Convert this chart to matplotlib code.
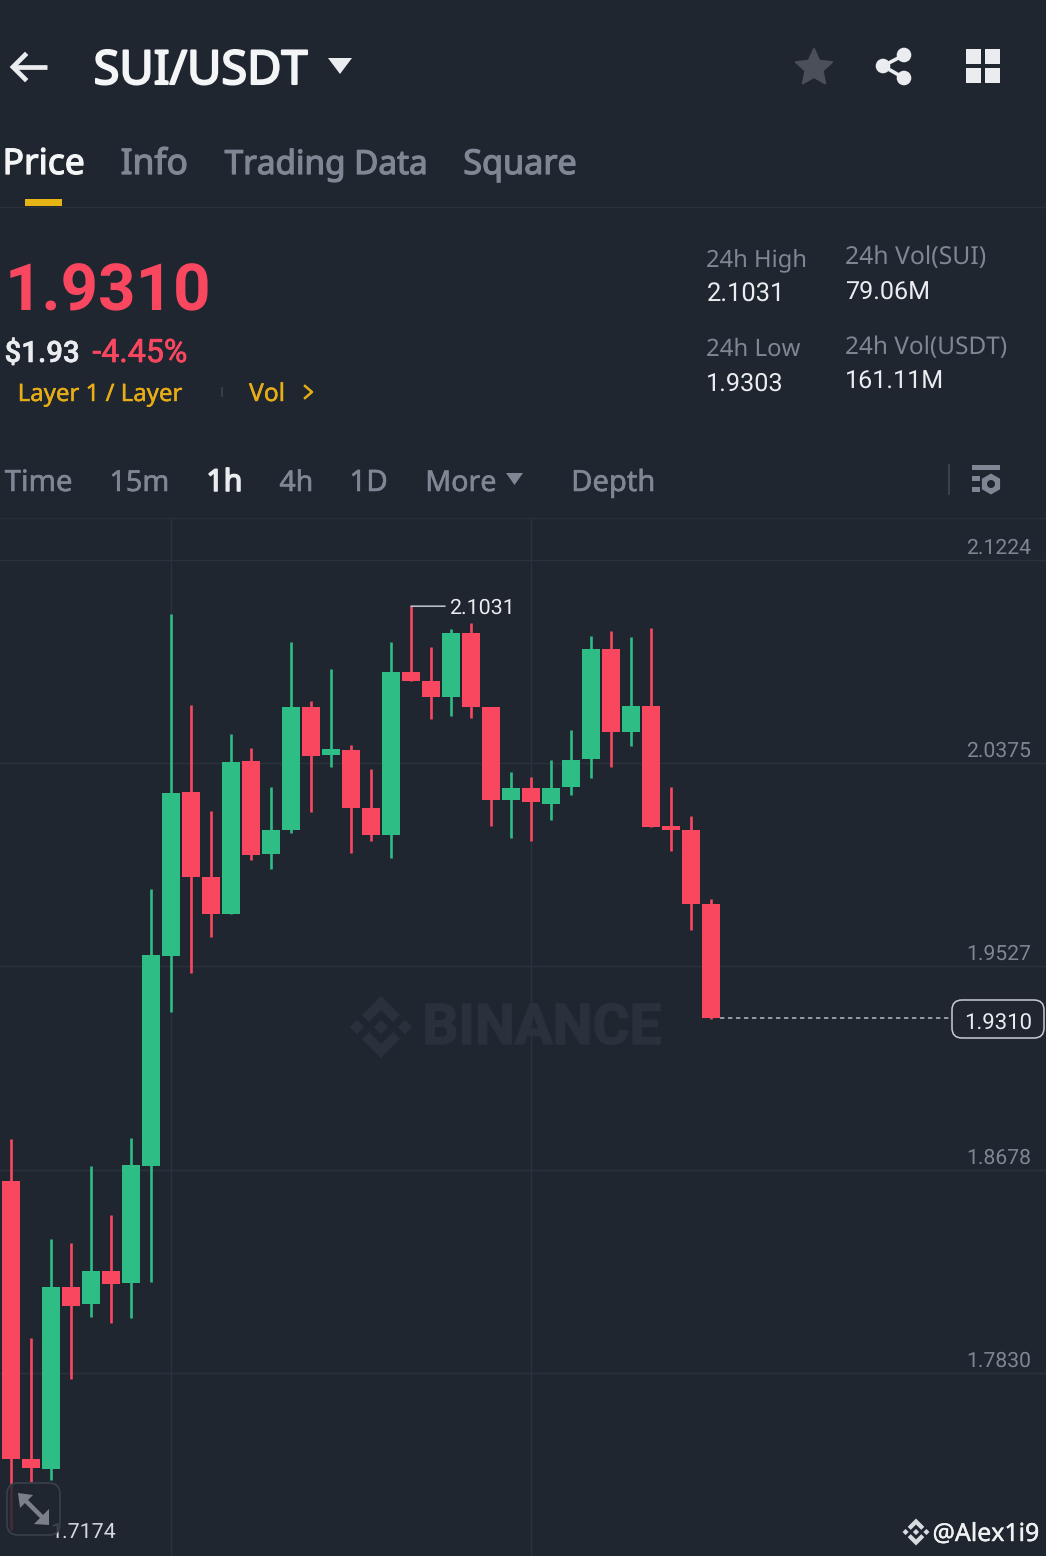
import matplotlib
matplotlib.use("Agg")
import matplotlib.pyplot as plt
import matplotlib.patheffects as pe
from matplotlib.patches import Polygon, Circle, Rectangle, FancyBboxPatch
from matplotlib.font_manager import FontProperties
from matplotlib.textpath import TextPath
from matplotlib.transforms import ScaledTranslation
import numpy as np

plt.rcParams["text.hinting"] = "none"

# ---------- data ----------
highs = [1.8807, 1.7976, 1.8389, 1.8373, 1.8694, 1.8490, 1.8811, 1.9851, 2.0999, 2.0619, 2.0176, 2.0498,
         2.0439, 2.0276, 2.0882, 2.0635, 2.0769, 2.0452, 2.0351, 2.0882, 2.1031, 2.0861, 2.0936, 2.0961,
         2.0610, 2.0339, 2.0318, 2.0389, 2.0514, 2.0907, 2.0928, 2.0903, 2.0940, 2.0276, 2.0155, 1.9809]
lows = [1.7174, 1.7375, 1.7383, 1.7805, 1.8064, 1.8039, 1.8060, 1.8210, 1.9337, 1.9500, 1.9650, 1.9746,
        1.9972, 1.9934, 2.0084, 2.0172, 2.0360, 2.0001, 2.0051, 1.9980, 2.0719, 2.0560, 2.0573, 2.0564,
        2.0114, 2.0063, 2.0051, 2.0139, 2.0243, 2.0314, 2.0360, 2.0448, 2.0109, 2.0009, 1.9679, 1.9309]
opens = [1.8632, 1.7471, 1.7429, 1.8189, 1.8118, 1.8256, 1.8206, 1.8694, 1.9571, 2.0255, 1.9901, 1.9746,
         2.0385, 1.9997, 2.0097, 2.0610, 2.0410, 2.0431, 2.0189, 2.0076, 2.0756, 2.0719, 2.0652, 2.0919,
         2.0610, 2.0222, 2.0272, 2.0205, 2.0276, 2.0393, 2.0852, 2.0506, 2.0614, 2.0114, 2.0097, 1.9788]
closes = [1.7471, 1.7433, 1.8189, 1.8110, 1.8256, 1.8202, 1.8698, 1.9575, 2.0251, 1.9901, 1.9746, 2.0381,
          1.9992, 2.0097, 2.0610, 2.0406, 2.0435, 2.0189, 2.0076, 2.0756, 2.0719, 2.0652, 2.0919, 2.0610,
          2.0222, 2.0272, 2.0214, 2.0272, 2.0389, 2.0852, 2.0506, 2.0614, 2.0109, 2.0097, 1.9788, 1.9310]
price_ticks = [2.1224, 2.0375, 1.9527, 1.8678, 1.7830]
tick_labels = ["2.1224", "2.0375", "1.9527", "1.8678", "1.7830"]
vgrid_candles = [8, 26]
day_high, day_low, last_price = 2.1031, 1.7174, 1.9310

BG = "#1f2630"; GRID = "#2b323d"; RED = "#f94760"; GREEN = "#2ebd85"
WHITE = "#eaecef"; GRAY = "#7e8793"; YEL = "#f0b90b"; MARK = "#2a313c"
W, H = 1046, 1556

fig = plt.figure(figsize=(W / 100, H / 100), dpi=100, facecolor=BG)

def pixel_axes(z):
    a = fig.add_axes([0, 0, 1, 1], zorder=z)
    a.set_xlim(0, W); a.set_ylim(H, 0); a.axis("off"); a.patch.set_alpha(0)
    return a

back = pixel_axes(1)
top = pixel_axes(3)

def txt(a, x0, x1, base, s, color, family="Noto Sans", weight="normal", stroke=0.0, z=5):
    fp = FontProperties(family=family, weight=weight)
    ext = TextPath((0, 0), s, size=100, prop=fp).get_extents()
    k = (x1 - x0) / ext.width
    t = a.text(x0 - ext.x0 * k, base, s, color=color, fontproperties=fp, fontsize=100 * k * 0.72,
               ha="left", va="baseline", zorder=z)
    if stroke:
        t.set_path_effects([pe.withStroke(linewidth=stroke, foreground=color)])
    return t

def binance(a, cx, cy, r, color, z=5):
    k = r / 63.3
    top_ch = np.array([(38.73, 53.2), (63.3, 28.63), (87.89, 53.22), (102.2, 38.92), (63.3, 0), (24.42, 38.9)])
    polys = [top_ch, np.column_stack([top_ch[:, 0], 126.6 - top_ch[:, 1]])]
    for c, h in [(14.31, 14.31), (63.3, 14.52), (112.3, 14.31)]:
        polys.append(np.array([(c - h, 63.3), (c, 63.3 - h), (c + h, 63.3), (c, 63.3 + h)]))
    for p in polys:
        a.add_patch(Polygon((p - 63.3) * k + [cx, cy], closed=True, fc=color, ec="none", zorder=z))

# ---------- chart ----------
ax = fig.add_axes([0, 0, 1, (H - 519) / H], zorder=2)
ax.patch.set_alpha(0)
ax.set_xlim(-0.55, 51.75)
ax.set_ylim(1.7066, 2.1395)
for sp in ax.spines.values():
    sp.set_visible(False)
ax.set_xticks([])
ax.set_yticks(price_ticks)
ax.set_yticklabels(tick_labels)
ax.yaxis.tick_right()
ax.tick_params(axis="y", length=0, pad=-10.8, labelcolor=GRAY, labelsize=15.2)
for t in ax.yaxis.get_major_ticks():
    t.label2.set_ha("right"); t.label2.set_va("bottom"); t.label2.set_fontfamily("Roboto")
    t.label2.set_transform(t.label2.get_transform() + ScaledTranslation(0, 1.5 / 72, fig.dpi_scale_trans))
ax.grid(axis="y", color=GRID, lw=1.0, zorder=0)
for v in vgrid_candles:
    ax.axvline(v, color=GRID, lw=1.0, zorder=0)

xs = np.arange(len(opens))
cols = [GREEN if c >= o else RED for o, c in zip(opens, closes)]
ax.vlines(xs, lows, highs, colors=cols, lw=1.9, zorder=3)
ax.bar(xs, np.abs(np.array(closes) - np.array(opens)), bottom=np.minimum(opens, closes),
       width=0.88, color=cols, zorder=4, linewidth=0)

# high marker, last price, low label
ihi = int(np.argmax(highs))
ax.annotate("", xy=(ihi, day_high), xytext=(ihi + 1.7, day_high),
            arrowprops=dict(arrowstyle="-", color="#b7bdc6", lw=1.2, shrinkA=0, shrinkB=0), zorder=5)
ax.text(ihi + 1.9, day_high, f"{day_high:.4f}", color=WHITE, family="Roboto", fontsize=15.4,
        va="center_baseline", ha="left", zorder=5)
ax.plot([xs[-1] + 0.44, 46.88], [last_price, last_price], color="#a9afb8", lw=1.2, dashes=(2.6, 2.2), zorder=3)
ilo = int(np.argmin(lows))
ax.text(ilo + 1.95, day_low, f"{day_low:.4f}", color="#d5d8dd", family="Roboto", fontsize=15.4,
        va="center_baseline", ha="left", zorder=2)

# price tag
top.add_patch(FancyBboxPatch((952, 1000), 92, 38, boxstyle="round,pad=0,rounding_size=10", fc=BG, ec="#c8ccd2", lw=1.1, zorder=4))
txt(top, 966, 1031, 1030, f"{last_price:.4f}", WHITE, family="Roboto")

# watermark
binance(back, 381, 1027, 31, MARK)
txt(back, 426, 660, 1044, "BINANCE", MARK, family="Roboto", weight="bold", stroke=1.0)

# ---------- header ----------
top.plot([14, 47], [67, 67], color=WHITE, lw=3.4, solid_capstyle="butt")
top.plot([25, 13, 25], [55, 67, 79], color=WHITE, lw=3.4, solid_joinstyle="miter")
txt(top, 96, 307, 84, "SUI/USDT", "#f4f5f7", stroke=1.5)
top.add_patch(Polygon([(328, 58), (352, 58), (340, 74)], fc=WHITE, ec="none"))
# star
ang = np.deg2rad(np.arange(0, 360, 36) - 90)
rad = np.array([19, 9] * 5)
top.add_patch(Polygon(np.column_stack([814 + rad * np.cos(ang), 68 + rad * np.sin(ang)]), fc="#4a4f59", ec="#4a4f59", lw=1.5, joinstyle="round"))
# share
top.plot([904, 883, 904], [55, 66, 78], color=WHITE, lw=2.6)
for c in [(904, 55), (883, 66), (904, 78)]:
    top.add_patch(Circle(c, 7.3, fc=WHITE, ec="none"))
# grid
for x in (966, 985):
    for y in (49, 68):
        top.add_patch(Rectangle((x, y), 15, 15, fc=WHITE, ec="none"))

txt(top, 6, 83, 174, "Price", "#f4f5f7", stroke=0.9)
txt(top, 122, 186, 174, "Info", GRAY, stroke=0.9)
txt(top, 225, 425, 174, "Trading Data", GRAY, stroke=0.9)
txt(top, 465, 575, 174, "Square", GRAY, stroke=0.9)
top.add_patch(Rectangle((25, 199), 37, 7, fc="#e7b416", ec="none"))
top.plot([0, W], [207, 207], color="#2a303a", lw=1)

# ---------- price block ----------
txt(top, 10, 208, 310, "1.9310", RED, family="Roboto", weight="bold")
txt(top, 6, 78, 362, "$1.93", WHITE, family="Roboto", weight="medium", stroke=0.4)
txt(top, 93, 186, 362, "-4.45%", RED, family="Roboto", stroke=0.5)
txt(top, 20, 182, 401, "Layer 1 / Layer", "#e8ad16", stroke=0.3)
top.plot([222, 222], [388, 396], color="#3d434e", lw=1.2)
txt(top, 249, 283, 401, "Vol", "#e8ad16", stroke=0.3)
top.plot([305, 312, 305], [386, 392, 398], color="#e8ad16", lw=1.8)

txt(top, 707, 805, 266, "24h High", GRAY)
txt(top, 708, 780, 301, "2.1031", WHITE, family="Roboto")
txt(top, 846, 985, 264, "24h Vol(SUI)", GRAY)
txt(top, 846, 928, 299, "79.06M", WHITE, family="Roboto")
txt(top, 707, 800, 356, "24h Low", GRAY)
txt(top, 708, 782, 391, "1.9303", WHITE, family="Roboto")
txt(top, 846, 1006, 354, "24h Vol(USDT)", GRAY)
txt(top, 847, 942, 389, "161.11M", WHITE, family="Roboto")

# ---------- time bar ----------
for s, x0, x1, c, st in [("Time", 5, 71, GRAY, 0.4), ("15m", 112, 167, GRAY, 0.4),
                         ("1h", 209, 240, WHITE, 1.1), ("4h", 280, 311, GRAY, 0.4),
                         ("1D", 352, 386, GRAY, 0.4), ("More", 428, 495, GRAY, 0.4),
                         ("Depth", 574, 653, GRAY, 0.4)]:
    txt(top, x0, x1, 491, s, c, stroke=st)
top.add_patch(Polygon([(506, 473), (523, 473), (514.5, 485)], fc=GRAY, ec="none"))
top.plot([949, 949], [465, 494], color="#3a404b", lw=1.5)
top.add_patch(Rectangle((972, 465), 28, 4.5, fc=GRAY, ec="none"))
top.add_patch(Rectangle((972, 476), 8, 5, fc=GRAY, ec="none"))
top.add_patch(Rectangle((972, 487), 8, 4.5, fc=GRAY, ec="none"))
hx = np.deg2rad(np.arange(0, 360, 60) + 90)
top.add_patch(Polygon(np.column_stack([991 + 10.5 * np.cos(hx), 484 + 10.5 * np.sin(hx)]), fc=GRAY, ec="none"))
top.add_patch(Circle((991, 484), 4, fc=BG, ec="none"))
top.plot([0, W], [518, 518], color="#2a303a", lw=1)

# ---------- expand button ----------
top.add_patch(FancyBboxPatch((7, 1483), 53, 52, boxstyle="round,pad=0,rounding_size=11", fc=BG, alpha=0.82, ec="none", zorder=6))
top.add_patch(FancyBboxPatch((7, 1483), 53, 52, boxstyle="round,pad=0,rounding_size=11", fc="none", ec="#3a404a", lw=1.2, zorder=7))
ICON = "#7b8088"
top.plot([25, 42], [1500, 1517], color=ICON, lw=3.2, zorder=8)
top.add_patch(Polygon([(18, 1493), (33, 1495), (20, 1508)], fc=ICON, ec="none", zorder=8))
top.add_patch(Polygon([(49, 1525), (34, 1524), (49, 1509)], fc=ICON, ec="none", zorder=8))

# ---------- signature ----------
binance(top, 916, 1532, 13.5, "#d8dbe0")
txt(top, 934, 1038, 1541, "@Alex1i9", "#f0f1f3", stroke=0.3)

fig.savefig("out.png", dpi=100, facecolor=BG)
